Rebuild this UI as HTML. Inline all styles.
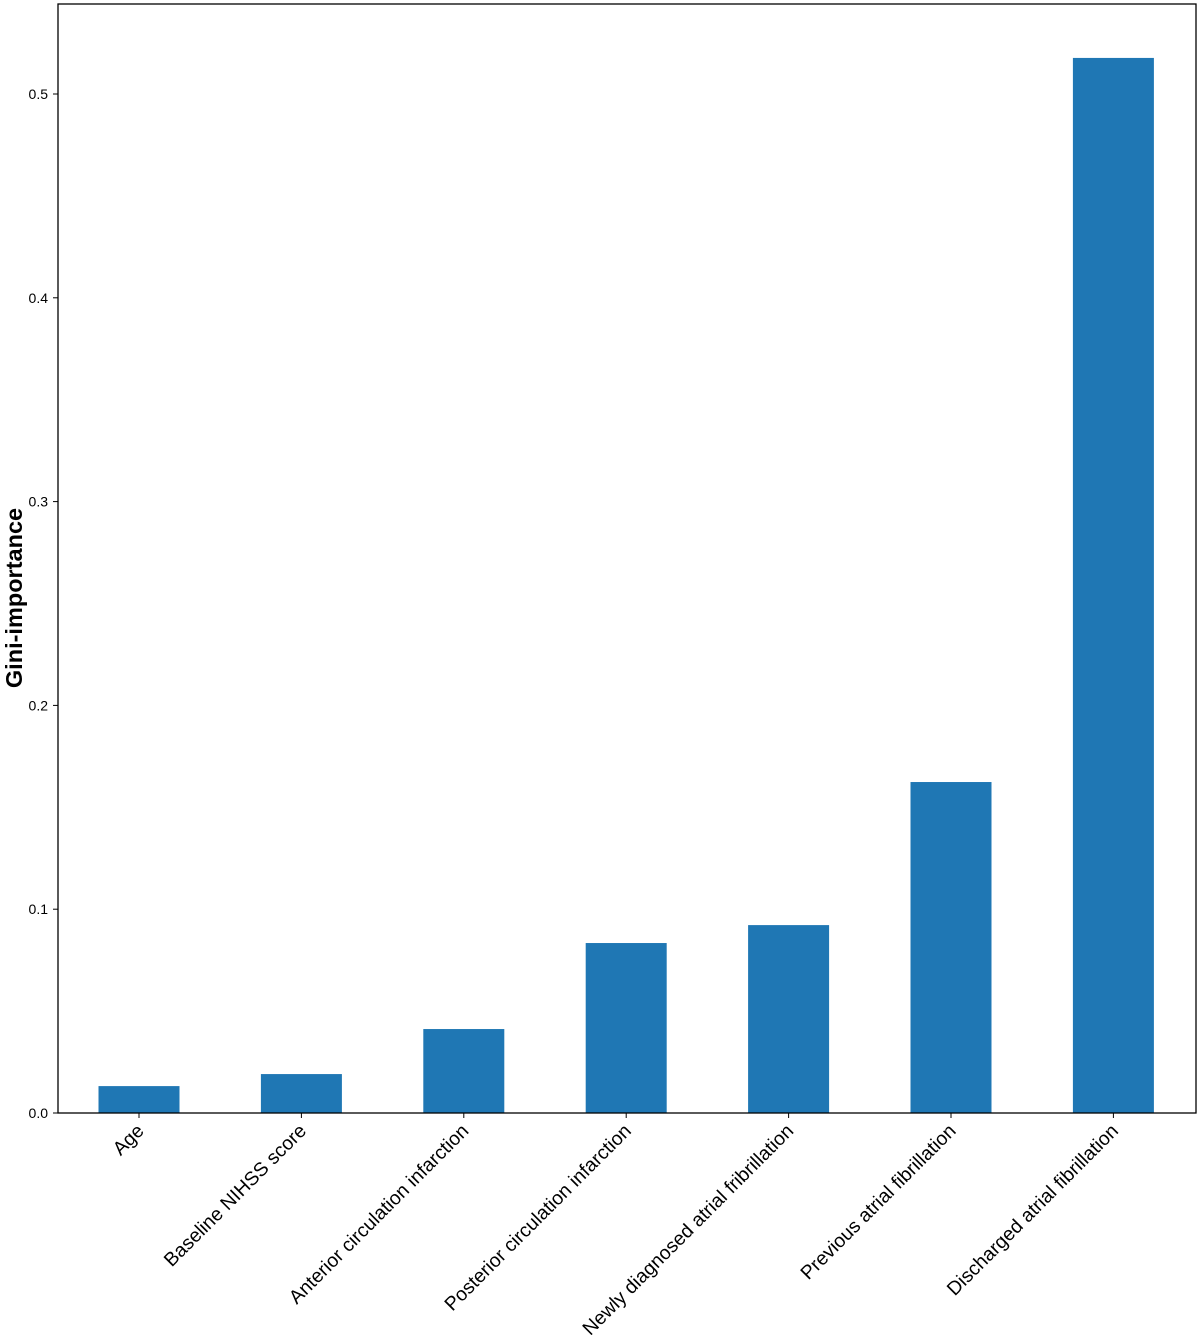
<!DOCTYPE html>
<html><head><meta charset="utf-8"><style>
html,body{margin:0;padding:0;background:#fff;}
svg{display:block;font-family:"Liberation Sans",sans-serif;}
</style></head><body>
<svg id="chart" width="1200" height="1339">
<g id="bars"></g>
<g id="yaxis"></g>
<g id="xaxis"></g>
<rect x="58" y="4" width="1138" height="1109" fill="none" stroke="#000" stroke-width="1.3"/>
<text x="22" y="598" transform="rotate(-90 22 598)" text-anchor="middle" font-size="23.5" font-weight="bold">Gini-importance</text>
</svg>
<script>
const categories = ["Age","Baseline NIHSS score","Anterior circulation infarction","Posterior circulation infarction","Newly diagnosed atrial fribrillation","Previous atrial fibrillation","Discharged atrial fibrillation"];
const values = [0.0132,0.0191,0.0412,0.0834,0.0922,0.1624,0.5177];
const yTicks = [0,0.1,0.2,0.3,0.4,0.5];
const yTickLabels = ["0.0","0.1","0.2","0.3","0.4","0.5"];

const NS="http://www.w3.org/2000/svg";
const y0=1113, pxPerUnit=2038;
function yScale(v){return y0 - v*pxPerUnit;}
function xScale(i){return 139 + i*162.4;}
const barW=81;
const bars=document.getElementById('bars');
const xa=document.getElementById('xaxis');
const ya=document.getElementById('yaxis');
categories.forEach((c,i)=>{
  const r=document.createElementNS(NS,'rect');
  
  
  r.setAttribute('x',xScale(i)-barW/2);
  r.setAttribute('y',yScale(values[i]));
  r.setAttribute('width',barW);
  r.setAttribute('height',y0-yScale(values[i]));
  r.setAttribute('fill','#1f77b4');
  bars.appendChild(r);
  const t=document.createElementNS(NS,'line');
  
  
  t.setAttribute('x1',xScale(i));t.setAttribute('x2',xScale(i));
  t.setAttribute('y1',y0);t.setAttribute('y2',y0+5);
  t.setAttribute('stroke','#000');
  xa.appendChild(t);
  const l=document.createElementNS(NS,'text');
  
  
  const lx=xScale(i)+6, ly=y0+19;
  l.setAttribute('x',lx);l.setAttribute('y',ly);
  l.setAttribute('text-anchor','end');
  l.setAttribute('font-size','19.4');
  l.setAttribute('transform','rotate(-45 '+lx+' '+ly+')');
  l.textContent=c;
  xa.appendChild(l);
});
yTicks.forEach((v,i)=>{
  const t=document.createElementNS(NS,'line');
  
  
  t.setAttribute('x1',53);t.setAttribute('x2',58);
  t.setAttribute('y1',yScale(v));t.setAttribute('y2',yScale(v));
  t.setAttribute('stroke','#000');
  ya.appendChild(t);
  const l=document.createElementNS(NS,'text');
  
  
  l.setAttribute('x',48);l.setAttribute('y',yScale(v)+5);
  l.setAttribute('text-anchor','end');
  l.setAttribute('font-size','14');
  l.textContent=yTickLabels[i];
  ya.appendChild(l);
});
</script>
</body></html>
